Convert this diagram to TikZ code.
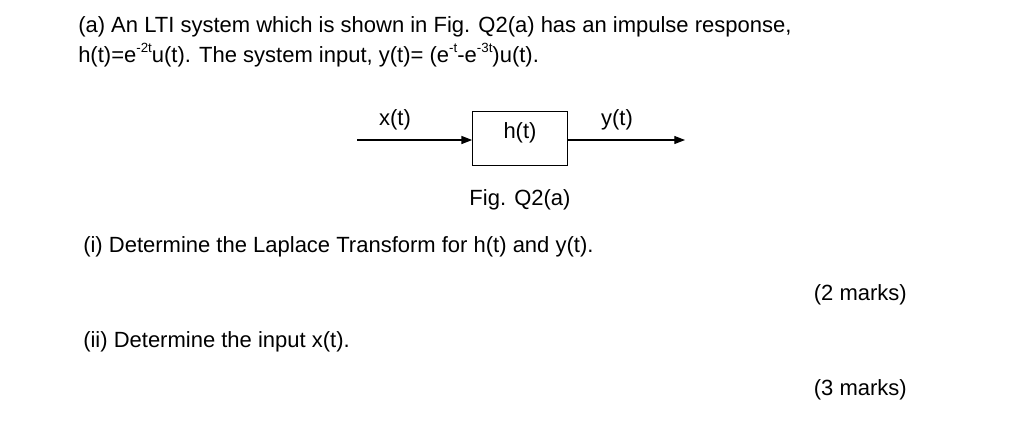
\documentclass[tikz,border=0pt]{standalone}
\usepackage{fontspec}
\setmainfont{Liberation Sans}
\usetikzlibrary{arrows.meta}
\newcommand{\supx}[1]{\raisebox{0.45em}{\fontsize{10}{10}\selectfont #1}}
\begin{document}
\begin{tikzpicture}[x=0.75pt,y=-0.75pt,
  txt/.style={inner sep=0pt,font=\fontsize{16.5}{20}\selectfont},
  sig/.style={line width=0.8pt,-{Triangle[length=8pt,width=6pt]}}]
\useasboundingbox[fill=white] (0,0) rectangle (1024,444);
\node[txt,anchor=west] (l1) at (78,27) {(a) An LTI system which is shown in Fig. Q2(a) has an impulse response,};
\node[txt,anchor=west] (l2) at (78,55) {h(t)=e\supx{-2t}u(t). The system input, y(t)= (e\supx{-t}-e\supx{-3t})u(t).};
\coordinate (in) at (357,140);
\coordinate (out) at (685,140);
\node[draw,line width=0.8pt,minimum width=71pt,minimum height=40pt,inner sep=0pt] (h) at (520,138.5) {};
\node[txt] (ht) at (520,133) {h(t)};
\draw[sig] (in) -- (h.west|-in);
\draw[sig] (h.east|-out) -- (out);
\node[txt] (xt) at (395,120) {x(t)};
\node[txt] (yt) at (617,120) {y(t)};
\node[txt] (fig) at (520,200) {Fig. Q2(a)};
\node[txt,anchor=west] (q1) at (83,247) {(i) Determine the Laplace Transform for h(t) and y(t).};
\node[txt,anchor=east] (m1) at (907,295) {(2 marks)};
\node[txt,anchor=west] (q2) at (83,342) {(ii) Determine the input x(t).};
\node[txt,anchor=east] (m2) at (907,390) {(3 marks)};
\end{tikzpicture}
\end{document}
